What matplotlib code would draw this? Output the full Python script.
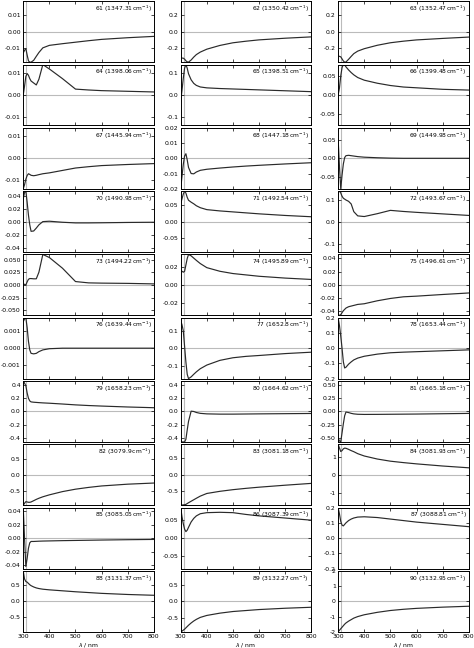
import matplotlib
matplotlib.use("Agg")
import matplotlib.pyplot as plt
from matplotlib.ticker import MaxNLocator, MultipleLocator

# wavelength grid (nm)
wl = [300, 305, 310, 315, 320, 325, 330, 340, 350, 360, 375, 400, 450, 500, 550, 600, 700, 800]

modes = list(range(61, 91))
wavenumbers = ["1347.31", "1350.42", "1352.47", "1398.06", "1398.51", "1399.48",
               "1445.94", "1447.18", "1449.98", "1490.98", "1492.54", "1493.67",
               "1494.22", "1495.89", "1496.61", "1639.44", "1652.8", "1653.44",
               "1658.23", "1664.62", "1665.18", "3079.9", "3081.18", "3081.93",
               "3085.05", "3087.39", "3088.81", "3131.37", "3132.27", "3132.95"]

y61 = [-0.0128, -0.0112, -0.0101, -0.0140, -0.0175, -0.0183, -0.0183, -0.0172, -0.0148, -0.0125, -0.0097, -0.0082, -0.0072, -0.0063, -0.0054, -0.0046, -0.0036, -0.0028]
y62 = [-0.317, -0.317, -0.318, -0.330, -0.350, -0.362, -0.366, -0.340, -0.305, -0.275, -0.245, -0.210, -0.165, -0.133, -0.114, -0.098, -0.078, -0.062]
y63 = [-0.288, -0.295, -0.300, -0.325, -0.350, -0.364, -0.362, -0.330, -0.295, -0.262, -0.232, -0.203, -0.162, -0.132, -0.113, -0.098, -0.080, -0.064]
y64 = [0.0000, 0.0040, 0.0085, 0.0098, 0.0090, 0.0075, 0.0064, 0.0055, 0.0046, 0.0072, 0.0139, 0.0119, 0.0075, 0.0027, 0.0023, 0.0020, 0.0017, 0.0014]
y65 = [-0.030, 0.020, 0.075, 0.120, 0.136, 0.120, 0.095, 0.068, 0.052, 0.043, 0.036, 0.032, 0.029, 0.027, 0.025, 0.023, 0.019, 0.015]
y66 = [0.000, 0.018, 0.050, 0.072, 0.080, 0.079, 0.074, 0.066, 0.059, 0.053, 0.046, 0.039, 0.031, 0.025, 0.021, 0.019, 0.015, 0.013]
y67 = [-0.0138, -0.0120, -0.0095, -0.0078, -0.0070, -0.0073, -0.0077, -0.0079, -0.0077, -0.0074, -0.0070, -0.0066, -0.0055, -0.0044, -0.0038, -0.0033, -0.0028, -0.0024]
y68 = [-0.0200, -0.0120, -0.0040, 0.0015, 0.0030, -0.0010, -0.0060, -0.0100, -0.0102, -0.0090, -0.0079, -0.0072, -0.0064, -0.0057, -0.0051, -0.0046, -0.0037, -0.0029]
y69 = [0.052, -0.020, -0.081, -0.045, -0.015, 0.002, 0.007, 0.008, 0.007, 0.006, 0.0045, 0.003, 0.0015, 0.0005, 0.0, 0.0, 0.0, 0.0]
y70 = [0.035, 0.045, 0.047, 0.030, 0.010, -0.005, -0.015, -0.0145, -0.010, -0.005, 0.0, 0.0006, -0.001, -0.002, -0.002, -0.0018, -0.0013, -0.001]
y71 = [0.056, 0.070, 0.085, 0.094, 0.088, 0.075, 0.066, 0.060, 0.055, 0.049, 0.043, 0.037, 0.033, 0.030, 0.027, 0.024, 0.019, 0.015]
y72 = [0.138, 0.138, 0.130, 0.115, 0.106, 0.102, 0.098, 0.092, 0.080, 0.045, 0.026, 0.023, 0.036, 0.051, 0.046, 0.042, 0.035, 0.028]
y73 = [0.002, 0.001, 0.000, 0.006, 0.011, 0.0125, 0.0125, 0.012, 0.012, 0.025, 0.060, 0.054, 0.033, 0.0066, 0.004, 0.0035, 0.003, 0.002]
y74 = [0.0163, 0.0150, 0.0140, 0.0150, 0.0220, 0.0290, 0.0335, 0.0320, 0.0295, 0.0270, 0.0235, 0.0190, 0.0150, 0.0125, 0.0110, 0.0095, 0.0075, 0.0060]
y75 = [-0.046, -0.046, -0.045, -0.042, -0.039, -0.037, -0.035, -0.033, -0.032, -0.031, -0.0295, -0.0285, -0.024, -0.0205, -0.018, -0.017, -0.0145, -0.0122]
y76 = [0.00154, 0.00170, 0.00177, 0.0012, 0.0004, -0.0001, -0.0003, -0.00033, -0.0003, -0.0002, -0.0001, -0.00003, 0.0, 0.0, 0.0, 0.0, 0.0, 0.0]
y77 = [0.158, 0.135, 0.100, 0.010, -0.080, -0.150, -0.175, -0.165, -0.150, -0.136, -0.118, -0.097, -0.070, -0.055, -0.047, -0.042, -0.031, -0.023]
y78 = [0.200, 0.150, 0.080, 0.000, -0.090, -0.130, -0.125, -0.105, -0.090, -0.077, -0.065, -0.053, -0.039, -0.030, -0.026, -0.023, -0.017, -0.011]
y79 = [0.460, 0.430, 0.390, 0.280, 0.200, 0.160, 0.145, 0.140, 0.137, 0.134, 0.130, 0.125, 0.113, 0.100, 0.090, 0.082, 0.068, 0.057]
y80 = [-0.460, -0.460, -0.460, -0.460, -0.420, -0.280, -0.150, 0.005, 0.000, -0.015, -0.028, -0.036, -0.040, -0.040, -0.038, -0.036, -0.033, -0.030]
y81 = [-0.500, -0.550, -0.570, -0.400, -0.230, -0.080, -0.010, -0.020, -0.035, -0.045, -0.052, -0.055, -0.054, -0.052, -0.050, -0.048, -0.042, -0.036]
y82 = [-0.940, -0.880, -0.830, -0.840, -0.850, -0.850, -0.840, -0.800, -0.760, -0.725, -0.680, -0.620, -0.520, -0.445, -0.390, -0.345, -0.290, -0.255]
y83 = [-0.920, -0.915, -0.910, -0.905, -0.895, -0.870, -0.845, -0.800, -0.755, -0.710, -0.645, -0.565, -0.500, -0.450, -0.410, -0.375, -0.315, -0.260]
y84 = [1.700, 1.500, 1.300, 1.350, 1.450, 1.490, 1.480, 1.420, 1.350, 1.290, 1.180, 1.050, 0.880, 0.760, 0.680, 0.610, 0.490, 0.390]
y85 = [0.045, 0.000, -0.042, -0.030, -0.015, -0.007, -0.005, -0.005, -0.0048, -0.0046, -0.0044, -0.0042, -0.0038, -0.0035, -0.0032, -0.0029, -0.0024, -0.0020]
y86 = [0.085, 0.060, 0.040, 0.025, 0.018, 0.022, 0.030, 0.045, 0.055, 0.062, 0.068, 0.071, 0.072, 0.071, 0.066, 0.062, 0.056, 0.050]
y87 = [0.200, 0.160, 0.110, 0.085, 0.080, 0.090, 0.100, 0.115, 0.125, 0.132, 0.138, 0.140, 0.135, 0.125, 0.115, 0.105, 0.090, 0.075]
y88 = [0.950, 0.700, 0.620, 0.600, 0.560, 0.520, 0.490, 0.450, 0.420, 0.400, 0.380, 0.360, 0.330, 0.300, 0.275, 0.250, 0.215, 0.190]
y89 = [-0.930, -0.910, -0.880, -0.850, -0.810, -0.770, -0.730, -0.660, -0.600, -0.550, -0.490, -0.430, -0.360, -0.310, -0.280, -0.250, -0.210, -0.180]
y90 = [-2.000, -1.900, -1.800, -1.700, -1.600, -1.500, -1.420, -1.300, -1.200, -1.100, -1.000, -0.880, -0.720, -0.600, -0.520, -0.460, -0.380, -0.320]

curves = [y61, y62, y63, y64, y65, y66, y67, y68, y69, y70,
          y71, y72, y73, y74, y75, y76, y77, y78, y79, y80,
          y81, y82, y83, y84, y85, y86, y87, y88, y89, y90]

excitation = 312  # grey vertical marker (nm)

plt.rcParams['font.family'] = 'DejaVu Sans'
plt.rcParams['mathtext.fontset'] = 'dejavusans'
plt.rcParams['axes.unicode_minus'] = False

fs_tick = 4.4
fs_text = 4.3

fig, axes = plt.subplots(10, 3, figsize=(4.74, 6.48), dpi=100, sharex=True)
fig.subplots_adjust(left=0.049, right=0.989, top=0.998, bottom=0.025,
                    hspace=0.04, wspace=0.205)

for i, ax in enumerate(axes.flat):
    y = curves[i]
    m = max(abs(v) for v in y)
    ax.axhline(0, color='#bbbbbb', lw=0.8, zorder=1)
    ax.axvline(excitation, color='#bbbbbb', lw=0.8, zorder=1)
    ax.plot(wl, y, color='#2a2a2a', lw=0.85, zorder=2)
    ax.set_xlim(300, 800)
    ax.set_ylim(-m, m)
    ax.yaxis.set_major_locator(MaxNLocator(nbins=5, steps=[1, 2, 2.5, 5, 10]))
    ax.xaxis.set_major_locator(MultipleLocator(100))
    ax.tick_params(direction='in', top=True, right=True, length=2.5, width=0.5,
                   labelsize=fs_tick, pad=1.7)
    for s in ax.spines.values():
        s.set_linewidth(0.7)
    label = "%d (%s$\\,\\mathrm{cm}^{-1}$)" % (modes[i], wavenumbers[i])
    ax.text(0.982, 0.96, label, transform=ax.transAxes,
            ha='right', va='top', fontsize=fs_text)

for ax in axes[-1]:
    ax.set_xlabel(r"$\lambda$ / nm", fontsize=fs_tick, labelpad=1)

fig.savefig("out.png", dpi=100)
